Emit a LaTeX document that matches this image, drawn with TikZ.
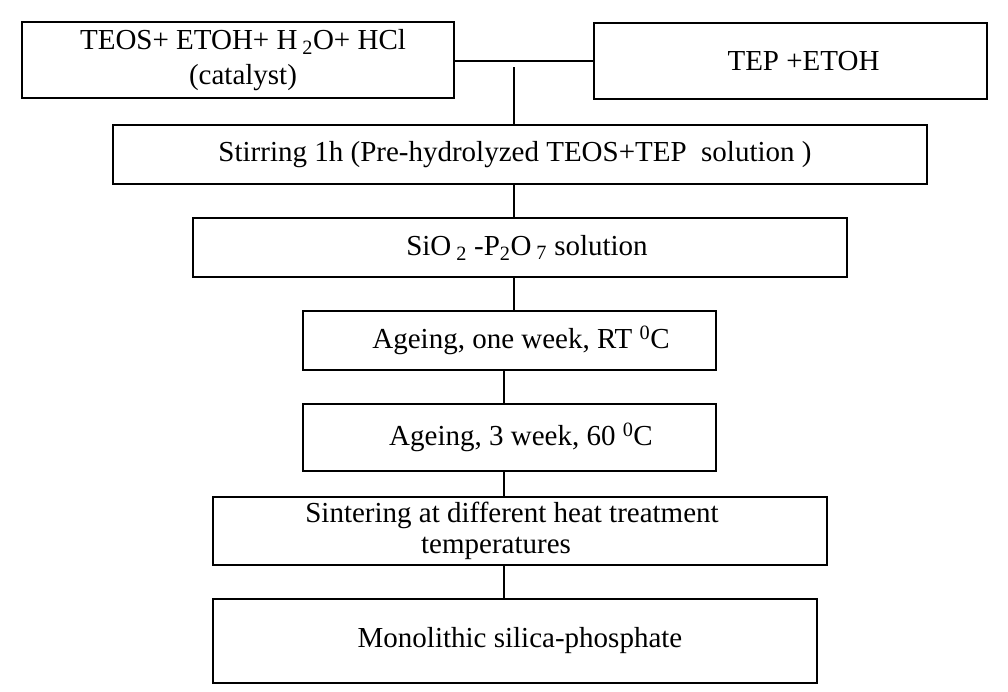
\documentclass[tikz,border=0pt]{standalone}
\usepackage{fontspec}
\setmainfont{Liberation Serif}
\newcommand{\pad}[1]{\rule{#1}{0pt}}
\begin{document}
\begin{tikzpicture}[x=1pt,y=-1pt,
  box/.style={draw=black, line width=1.8pt, rectangle, inner sep=0pt, align=center,
    font=\fontsize{29}{31}\selectfont},
  link/.style={draw=black, line width=1.8pt}]
\useasboundingbox (0,0) rectangle (1008,691);
\node[box, minimum width=432pt, minimum height=76pt, font=\fontsize{29}{35}\selectfont] (b1) at (238,60)
  {\pad{10pt}TEOS+ ETOH+ H\,\textsubscript{2}O+ HCl\\\pad{10pt}(catalyst)};
\node[box, minimum width=393pt, minimum height=76pt] (b2) at (790.5,61)
  {\pad{26pt}TEP +ETOH};
\node[box, minimum width=814pt, minimum height=59pt] (b3) at (520,154.5)
  {Stirring 1h (Pre-hydrolyzed TEOS+TEP\ \ solution )\pad{10pt}};
\node[box, minimum width=654pt, minimum height=59pt] (b4) at (520,247.5)
  {\pad{14pt}SiO\,\textsubscript{2} -P\textsubscript{2}O\,\textsubscript{7} solution};
\node[box, minimum width=413pt, minimum height=59pt] (b5) at (509.5,340.5)
  {\pad{23pt}Ageing, one week, RT \textsuperscript{0}C};
\node[box, minimum width=413pt, minimum height=67pt] (b6) at (509.5,437.5)
  {\pad{23pt}Ageing, 3 week, 60 \textsuperscript{0}C};
\node[box, minimum width=614pt, minimum height=68pt] (b7) at (520,531)
  {Sintering at different heat treatment\pad{16pt}\\temperatures\pad{48pt}};
\node[box, minimum width=604pt, minimum height=84pt] (b8) at (515,641)
  {\pad{10pt}Monolithic silica-phosphate};
\coordinate (j) at (514,67);
\coordinate (xa) at (514,0);
\coordinate (xb) at (504,0);
\draw[link] (b1.east |- b2.west) -- (b2.west);
\draw[link] (j) -- (b3.north -| j);
\draw[link] (b3.south -| xa) -- (b4.north -| xa);
\draw[link] (b4.south -| xa) -- (b5.north -| xa);
\draw[link] (b5.south -| xb) -- (b6.north -| xb);
\draw[link] (b6.south -| xb) -- (b7.north -| xb);
\draw[link] (b7.south -| xb) -- (b8.north -| xb);
\end{tikzpicture}
\end{document}
